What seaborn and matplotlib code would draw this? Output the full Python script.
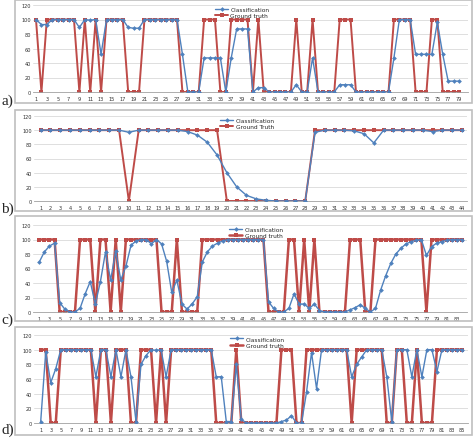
import numpy as np
import pandas as pd
import seaborn as sns
import matplotlib
matplotlib.use("Agg")
import matplotlib.pyplot as plt
from matplotlib.patches import Rectangle

# ---- data ----
# panel a) 79 samples
a_truth = [100, 0, 100, 100, 100, 100, 100, 100, 0, 100, 0, 100, 0, 100, 100, 100, 100, 0, 0, 0,
           100, 100, 100, 100, 100, 100, 100, 0, 0, 0, 0, 100, 100, 100, 0, 0, 100, 100, 100, 100,
           0, 100, 0, 0, 0, 0, 0, 0, 100, 0, 0, 100, 0, 0, 0, 0, 100, 100, 100, 0,
           0, 0, 0, 0, 0, 0, 100, 100, 100, 100, 0, 0, 0, 100, 100, 0, 0, 0, 0]
a_class = [100, 93, 93, 100, 100, 100, 100, 100, 89, 100, 99, 100, 52, 100, 100, 100, 100, 89, 88, 88,
           100, 100, 100, 100, 100, 100, 100, 52, 0, 0, 0, 47, 47, 47, 47, 0, 47, 87, 87, 87,
           0, 6, 6, 0, 0, 0, 0, 0, 10, 0, 0, 47, 0, 0, 0, 0, 10, 10, 10, 0,
           0, 0, 0, 0, 0, 0, 47, 100, 100, 100, 52, 52, 52, 52, 96, 52, 15, 15, 15]

# panel b) 44 samples
b_truth = [100, 100, 100, 100, 100, 100, 100, 100, 100, 0, 100, 100, 100, 100, 100, 100, 100, 100, 100, 0,
           0, 0, 0, 0, 0, 0, 0, 0, 100, 100, 100, 100, 100, 100, 100, 100, 100, 100, 100, 100,
           100, 100, 100, 100]
b_class = [100, 100, 100, 100, 100, 100, 100, 100, 100, 97, 100, 100, 100, 100, 100, 98, 93, 83, 65, 40,
           20, 8, 3, 1, 0, 0, 0, 0, 97, 100, 100, 100, 99, 95, 82, 100, 100, 100, 100, 100,
           98, 100, 100, 100]

# panel c) 84 samples
c_truth = [100, 100, 100, 100, 0, 0, 0, 0, 100, 100, 100, 0, 100, 100, 0, 100, 0, 100, 100, 100,
           100, 100, 100, 100, 0, 0, 0, 100, 0, 0, 0, 0, 100, 100, 100, 100, 100, 100, 100, 100,
           100, 100, 100, 100, 100, 0, 0, 0, 0, 100, 100, 0, 100, 0, 100, 0, 0, 0, 0, 0,
           0, 100, 100, 100, 0, 0, 100, 100, 100, 100, 100, 100, 100, 100, 100, 100, 0, 100, 100, 100,
           100, 100, 100, 100]
c_class = [69, 83, 91, 95, 13, 4, 0, 0, 5, 25, 42, 11, 42, 83, 44, 84, 44, 63, 92, 98,
           100, 100, 94, 100, 94, 70, 27, 44, 11, 4, 11, 21, 69, 83, 91, 95, 98, 100, 100, 100,
           100, 100, 100, 100, 100, 14, 5, 0, 0, 5, 25, 11, 11, 5, 11, 2, 0, 0, 0, 0,
           0, 3, 6, 10, 5, 0, 5, 30, 50, 67, 80, 88, 94, 97, 99, 100, 78, 90, 95, 97,
           99, 100, 100, 100]

# panel d) 85 samples
d_truth = [100, 100, 0, 0, 100, 100, 100, 100, 100, 100, 100, 0, 100, 100, 0, 100, 100, 100, 0, 0,
           100, 100, 100, 0, 100, 0, 100, 100, 100, 100, 100, 100, 100, 100, 100, 0, 0, 0, 0, 100,
           0, 0, 0, 0, 0, 0, 0, 0, 100, 100, 100, 0, 0, 100, 100, 100, 100, 100, 100, 100,
           100, 100, 0, 100, 100, 100, 100, 100, 100, 0, 0, 100, 100, 0, 0, 100, 0, 0, 0, 100,
           100, 100, 100, 100, 100]
d_class = [2, 97, 55, 74, 100, 100, 100, 100, 100, 100, 100, 63, 100, 100, 63, 100, 63, 100, 63, 2,
           80, 92, 100, 99, 100, 63, 100, 100, 100, 100, 100, 100, 100, 100, 100, 63, 63, 2, 2, 80,
           5, 0, 0, 0, 0, 0, 0, 0, 2, 4, 10, 0, 0, 42, 96, 47, 100, 100, 100, 100,
           100, 100, 63, 80, 90, 100, 100, 100, 100, 63, 2, 100, 100, 100, 63, 100, 63, 100, 100, 70,
           100, 100, 100, 100, 100]

panel_names = ["a)", "b)", "c)", "d)"]
truth_labels = ["Ground truth", "Ground Truth", "Ground truth", "Ground truth"]
tick_step = [2, 1, 2, 2]

# ---- layout in pixels (figure is 474 x 439) ----
W, H = 474, 439
# plot area: left, top, right, bottom
areas = [(33, 6, 468, 93), (34, 117, 467, 202), (33, 226, 467, 313), (34, 336, 468, 424)]
# pixel of first sample and of a later sample (index, px)
xref = [(36, 79, 459), (40.7, 44, 462), (39.3, 83, 457), (40.7, 85, 462)]
frames = [(15, 1, 472, 104), (15, 111, 472, 212), (15, 217, 472, 322), (15, 328, 472, 436)]
label_y = [101, 209, 320, 430]
legend_x = [213, 218, 227, 228]
red_width = [1.4, 1.4, 1.8, 1.8]

blue = "#4F81BD"
red = "#BE4B48"

sns.set_theme(style="white")
plt.rcParams["font.family"] = ["DejaVu Sans"]

fig = plt.figure(figsize=(W / 100, H / 100), dpi=100)

panels = [(a_truth, a_class), (b_truth, b_class), (c_truth, c_class), (d_truth, d_class)]

for i, (truth, clf) in enumerate(panels):
    l, t, r, b = areas[i]
    ax = fig.add_axes([l / W, 1 - b / H, (r - l) / W, (b - t) / H])
    n = len(truth)
    df = pd.DataFrame({"sample": np.arange(1, n + 1), "truth": truth, "clf": clf})

    sns.lineplot(data=df, x="sample", y="clf", ax=ax, color=blue, linewidth=1.0,
                 marker="D", markersize=2.4, markeredgewidth=0, label="Classification", zorder=3)
    sns.lineplot(data=df, x="sample", y="truth", ax=ax, color=red, linewidth=red_width[i],
                 marker="s", markersize=3.4, markeredgewidth=0, label=truth_labels[i], zorder=2)

    p1, k, pk = xref[i]
    s = (pk - p1) / (k - 1)
    ax.set_xlim(1 + (l - p1) / s, 1 + (r - p1) / s)
    ax.set_ylim(0, 120)
    ax.set_yticks(range(0, 121, 20))
    ax.set_xticks(range(1, n + 1, tick_step[i]))
    ax.tick_params(axis="both", labelsize=3.6, colors="#303030", length=1.2, width=0.5, pad=1.5)
    ax.tick_params(axis="y", length=0)
    ax.grid(axis="y", color="#D9D9D9", linewidth=0.6)
    ax.set_axisbelow(True)
    ax.set_xlabel("")
    ax.set_ylabel("")
    for side in ["top", "right", "left"]:
        ax.spines[side].set_visible(False)
    ax.spines["bottom"].set_color("#A0A0A0")
    ax.spines["bottom"].set_linewidth(0.6)

    lx = (legend_x[i] - l) / (r - l)
    ax.legend(loc="upper left", bbox_to_anchor=(lx, 1.01), frameon=False, fontsize=4.2,
              handlelength=2.2, labelspacing=0.25, borderaxespad=0, handletextpad=0.4)

    fl, ft, fr, fb = frames[i]
    fig.patches.append(Rectangle((fl / W, 1 - fb / H), (fr - fl) / W, (fb - ft) / H,
                                 transform=fig.transFigure, fill=False,
                                 edgecolor="#BFBFBF", linewidth=1.2))
    fig.text(1 / W, 1 - label_y[i] / H, panel_names[i], fontsize=11,
             family="Liberation Serif", va="center", ha="left")

fig.savefig("out.png", dpi=100, facecolor="white")
